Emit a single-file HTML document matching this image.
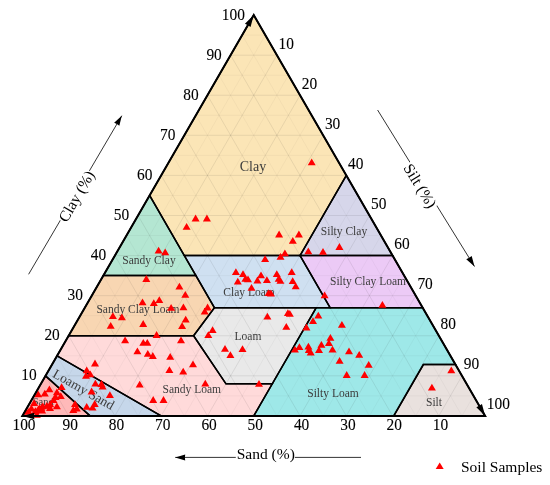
<!DOCTYPE html>
<html><head><meta charset="utf-8"><title>Soil texture triangle</title>
<style>html,body{margin:0;padding:0;background:#fff}svg{display:block}</style></head>
<body>
<svg width="550" height="485" viewBox="0 0 550 485">
<rect width="550" height="485" fill="#fff"/>
<polygon points="253.75,15.10 346.31,175.42 300.03,255.58 184.33,255.58 149.62,195.46" fill="#fbe5b6"/>
<polygon points="149.62,195.46 195.90,275.62 103.34,275.62" fill="#b4e6d2"/>
<polygon points="346.31,175.42 392.59,255.58 300.03,255.58" fill="#d6d6ea"/>
<polygon points="184.33,255.58 300.03,255.58 330.11,307.68 214.41,307.68 195.90,275.62" fill="#cfe0f1"/>
<polygon points="300.03,255.58 392.59,255.58 422.67,307.68 330.11,307.68" fill="#eccaf6"/>
<polygon points="103.34,275.62 195.90,275.62 214.41,307.68 193.59,335.74 68.63,335.74" fill="#f8d6b2"/>
<polygon points="214.41,307.68 316.23,307.68 272.26,383.84 225.98,383.84 193.59,335.74" fill="#e9e9e9"/>
<polygon points="68.63,335.74 193.59,335.74 225.98,383.84 272.26,383.84 253.75,415.90 161.19,415.90 57.06,355.78" fill="#ffdada"/>
<polygon points="316.23,307.68 422.67,307.68 455.53,364.60 423.37,364.60 393.75,415.90 253.75,415.90" fill="#9ee8e8"/>
<polygon points="455.53,364.60 485.15,415.90 393.75,415.90 423.37,364.60" fill="#e9e1de"/>
<polygon points="57.06,355.78 161.19,415.90 90.15,415.90 45.49,375.82" fill="#c6d7ea"/>
<polygon points="45.49,375.82 90.15,415.90 22.35,415.90" fill="#ffb9b9"/>
<path d="M33.92 395.86L473.58 395.86M45.49 415.90L265.32 35.14M462.01 415.90L242.18 35.14M57.06 355.78L450.44 355.78M91.77 415.90L288.46 75.22M415.73 415.90L219.04 75.22M80.20 315.70L427.30 315.70M138.05 415.90L311.60 115.30M369.45 415.90L195.90 115.30M103.34 275.62L404.16 275.62M184.33 415.90L334.74 155.38M323.17 415.90L172.76 155.38M126.48 235.54L381.02 235.54M230.61 415.90L357.88 195.46M276.89 415.90L149.62 195.46M149.62 195.46L357.88 195.46M276.89 415.90L381.02 235.54M230.61 415.90L126.48 235.54M172.76 155.38L334.74 155.38M323.17 415.90L404.16 275.62M184.33 415.90L103.34 275.62M195.90 115.30L311.60 115.30M369.45 415.90L427.30 315.70M138.05 415.90L80.20 315.70M219.04 75.22L288.46 75.22M415.73 415.90L450.44 355.78M91.77 415.90L57.06 355.78M242.18 35.14L265.32 35.14M462.01 415.90L473.58 395.86M45.49 415.90L33.92 395.86" stroke="#2a2a2a" stroke-opacity="0.04" stroke-width="1" fill="none"/>
<path d="M45.49 375.82L462.01 375.82M68.63 415.90L276.89 55.18M438.87 415.90L230.61 55.18M68.63 335.74L438.87 335.74M114.91 415.90L300.03 95.26M392.59 415.90L207.47 95.26M91.77 295.66L415.73 295.66M161.19 415.90L323.17 135.34M346.31 415.90L184.33 135.34M114.91 255.58L392.59 255.58M207.47 415.90L346.31 175.42M300.03 415.90L161.19 175.42M138.05 215.50L369.45 215.50M253.75 415.90L369.45 215.50M253.75 415.90L138.05 215.50M161.19 175.42L346.31 175.42M300.03 415.90L392.59 255.58M207.47 415.90L114.91 255.58M184.33 135.34L323.17 135.34M346.31 415.90L415.73 295.66M161.19 415.90L91.77 295.66M207.47 95.26L300.03 95.26M392.59 415.90L438.87 335.74M114.91 415.90L68.63 335.74M230.61 55.18L276.89 55.18M438.87 415.90L462.01 375.82M68.63 415.90L45.49 375.82" stroke="#2a2a2a" stroke-opacity="0.095" stroke-width="1" fill="none"/>
<polygon points="253.75,15.10 346.31,175.42 300.03,255.58 184.33,255.58 149.62,195.46" fill="none" stroke="#000" stroke-width="1.5" stroke-linejoin="miter"/>
<polygon points="149.62,195.46 195.90,275.62 103.34,275.62" fill="none" stroke="#000" stroke-width="1.5" stroke-linejoin="miter"/>
<polygon points="346.31,175.42 392.59,255.58 300.03,255.58" fill="none" stroke="#000" stroke-width="1.5" stroke-linejoin="miter"/>
<polygon points="184.33,255.58 300.03,255.58 330.11,307.68 214.41,307.68 195.90,275.62" fill="none" stroke="#000" stroke-width="1.5" stroke-linejoin="miter"/>
<polygon points="300.03,255.58 392.59,255.58 422.67,307.68 330.11,307.68" fill="none" stroke="#000" stroke-width="1.5" stroke-linejoin="miter"/>
<polygon points="103.34,275.62 195.90,275.62 214.41,307.68 193.59,335.74 68.63,335.74" fill="none" stroke="#000" stroke-width="1.5" stroke-linejoin="miter"/>
<polygon points="214.41,307.68 316.23,307.68 272.26,383.84 225.98,383.84 193.59,335.74" fill="none" stroke="#000" stroke-width="1.5" stroke-linejoin="miter"/>
<polygon points="68.63,335.74 193.59,335.74 225.98,383.84 272.26,383.84 253.75,415.90 161.19,415.90 57.06,355.78" fill="none" stroke="#000" stroke-width="1.5" stroke-linejoin="miter"/>
<polygon points="316.23,307.68 422.67,307.68 455.53,364.60 423.37,364.60 393.75,415.90 253.75,415.90" fill="none" stroke="#000" stroke-width="1.5" stroke-linejoin="miter"/>
<polygon points="455.53,364.60 485.15,415.90 393.75,415.90 423.37,364.60" fill="none" stroke="#000" stroke-width="1.5" stroke-linejoin="miter"/>
<polygon points="57.06,355.78 161.19,415.90 90.15,415.90 45.49,375.82" fill="none" stroke="#000" stroke-width="1.5" stroke-linejoin="miter"/>
<polygon points="45.49,375.82 90.15,415.90 22.35,415.90" fill="none" stroke="#000" stroke-width="1.5" stroke-linejoin="miter"/>
<g font-family="'Liberation Serif','Times New Roman',serif" font-size="15.4" fill="#000" stroke="#000" stroke-width="0.1" text-anchor="middle">
<text transform="translate(244.9 19.6) scale(1 1.04)" text-anchor="end">100</text>
<text transform="translate(221.8 59.7) scale(1 1.04)" text-anchor="end">90</text>
<text transform="translate(198.7 99.8) scale(1 1.04)" text-anchor="end">80</text>
<text transform="translate(175.5 139.8) scale(1 1.04)" text-anchor="end">70</text>
<text transform="translate(152.4 179.9) scale(1 1.04)" text-anchor="end">60</text>
<text transform="translate(129.2 220.0) scale(1 1.04)" text-anchor="end">50</text>
<text transform="translate(106.1 260.1) scale(1 1.04)" text-anchor="end">40</text>
<text transform="translate(83.0 300.2) scale(1 1.04)" text-anchor="end">30</text>
<text transform="translate(59.8 340.2) scale(1 1.04)" text-anchor="end">20</text>
<text transform="translate(36.7 380.3) scale(1 1.04)" text-anchor="end">10</text>
<text transform="translate(278.6 48.5) scale(1 1.04)" text-anchor="start">10</text>
<text transform="translate(301.7 88.6) scale(1 1.04)" text-anchor="start">20</text>
<text transform="translate(324.9 128.6) scale(1 1.04)" text-anchor="start">30</text>
<text transform="translate(348.0 168.7) scale(1 1.04)" text-anchor="start">40</text>
<text transform="translate(371.1 208.8) scale(1 1.04)" text-anchor="start">50</text>
<text transform="translate(394.3 248.9) scale(1 1.04)" text-anchor="start">60</text>
<text transform="translate(417.4 289.0) scale(1 1.04)" text-anchor="start">70</text>
<text transform="translate(440.6 329.0) scale(1 1.04)" text-anchor="start">80</text>
<text transform="translate(463.7 369.1) scale(1 1.04)" text-anchor="start">90</text>
<text transform="translate(486.8 409.2) scale(1 1.04)" text-anchor="start">100</text>
<text transform="translate(24.0 430.4) scale(1 1.04)">100</text>
<text transform="translate(70.2 430.4) scale(1 1.04)">90</text>
<text transform="translate(116.5 430.4) scale(1 1.04)">80</text>
<text transform="translate(162.8 430.4) scale(1 1.04)">70</text>
<text transform="translate(209.1 430.4) scale(1 1.04)">60</text>
<text transform="translate(255.3 430.4) scale(1 1.04)">50</text>
<text transform="translate(301.6 430.4) scale(1 1.04)">40</text>
<text transform="translate(347.9 430.4) scale(1 1.04)">30</text>
<text transform="translate(394.2 430.4) scale(1 1.04)">20</text>
<text transform="translate(440.5 430.4) scale(1 1.04)">10</text>
</g>
<g font-family="'Liberation Serif','Times New Roman',serif" font-size="11.5" fill="#3c3c3c" text-anchor="middle">
<text x="253" y="171" font-size="14">Clay</text>
<text x="344" y="234.5">Silty Clay</text>
<text x="149" y="264.3">Sandy Clay</text>
<text x="249" y="296">Clay Loam</text>
<text x="368" y="285">Silty Clay Loam</text>
<text x="138" y="313">Sandy Clay Loam</text>
<text x="248" y="340">Loam</text>
<text x="191.8" y="393">Sandy Loam</text>
<text x="333" y="397">Silty Loam</text>
<text x="434" y="406">Silt</text>
<text x="43.2" y="404.6" font-size="10.5">Sand</text>
<text transform="translate(83.6,389.5) rotate(29.6)" font-size="13.4" y="4.4">Loamy Sand</text>
</g>
<path d="M311.7 158.4l4.0 6.8h-8.0zM195.6 214.6l4.0 6.8h-8.0zM206.9 214.6l4.0 6.8h-8.0zM186.6 223.0l4.0 6.8h-8.0zM279.1 230.6l4.0 6.8h-8.0zM298.9 230.6l4.0 6.8h-8.0zM292.8 237.0l4.0 6.8h-8.0zM284.9 249.5l4.0 6.8h-8.0zM280.5 253.0l4.0 6.8h-8.0zM265.1 255.3l4.0 6.8h-8.0zM308.3 247.4l4.0 6.8h-8.0zM323.0 248.0l4.0 6.8h-8.0zM339.4 243.1l4.0 6.8h-8.0zM235.9 268.3l4.0 6.8h-8.0zM243.0 270.2l4.0 6.8h-8.0zM237.8 277.8l4.0 6.8h-8.0zM245.4 275.0l4.0 6.8h-8.0zM248.0 275.4l4.0 6.8h-8.0zM251.5 284.0l4.0 6.8h-8.0zM257.4 276.6l4.0 6.8h-8.0zM261.0 271.4l4.0 6.8h-8.0zM266.9 276.2l4.0 6.8h-8.0zM276.8 270.2l4.0 6.8h-8.0zM278.7 275.0l4.0 6.8h-8.0zM280.4 276.9l4.0 6.8h-8.0zM291.7 268.3l4.0 6.8h-8.0zM292.7 277.3l4.0 6.8h-8.0zM295.7 282.5l4.0 6.8h-8.0zM268.6 289.2l4.0 6.8h-8.0zM270.9 289.6l4.0 6.8h-8.0zM324.6 291.5l4.0 6.8h-8.0zM267.4 312.8l4.0 6.8h-8.0zM287.9 309.2l4.0 6.8h-8.0zM289.8 310.0l4.0 6.8h-8.0zM286.3 323.0l4.0 6.8h-8.0zM212.6 326.2l4.0 6.8h-8.0zM208.3 331.3l4.0 6.8h-8.0zM207.6 303.6l4.0 6.8h-8.0zM204.7 307.8l4.0 6.8h-8.0zM225.0 344.9l4.0 6.8h-8.0zM242.5 345.2l4.0 6.8h-8.0zM230.4 351.2l4.0 6.8h-8.0zM259.0 379.9l4.0 6.8h-8.0zM318.3 311.8l4.0 6.8h-8.0zM313.0 317.2l4.0 6.8h-8.0zM306.4 323.6l4.0 6.8h-8.0zM382.4 300.9l4.0 6.8h-8.0zM341.9 320.9l4.0 6.8h-8.0zM330.4 334.0l4.0 6.8h-8.0zM328.9 339.2l4.0 6.8h-8.0zM321.4 341.0l4.0 6.8h-8.0zM319.0 346.2l4.0 6.8h-8.0zM332.5 345.8l4.0 6.8h-8.0zM308.4 342.7l4.0 6.8h-8.0zM308.8 346.2l4.0 6.8h-8.0zM310.7 348.6l4.0 6.8h-8.0zM299.4 343.2l4.0 6.8h-8.0zM294.9 345.8l4.0 6.8h-8.0zM349.0 347.4l4.0 6.8h-8.0zM359.2 351.0l4.0 6.8h-8.0zM339.6 356.9l4.0 6.8h-8.0zM368.7 360.9l4.0 6.8h-8.0zM346.7 371.1l4.0 6.8h-8.0zM364.6 371.1l4.0 6.8h-8.0zM451.3 366.4l4.0 6.8h-8.0zM431.9 383.7l4.0 6.8h-8.0zM158.6 246.8l4.0 6.8h-8.0zM165.2 248.4l4.0 6.8h-8.0zM146.3 275.1l4.0 6.8h-8.0zM179.4 282.7l4.0 6.8h-8.0zM185.3 291.0l4.0 6.8h-8.0zM142.5 298.5l4.0 6.8h-8.0zM153.8 299.2l4.0 6.8h-8.0zM159.3 296.2l4.0 6.8h-8.0zM171.1 304.0l4.0 6.8h-8.0zM183.4 303.5l4.0 6.8h-8.0zM112.9 312.3l4.0 6.8h-8.0zM121.9 313.4l4.0 6.8h-8.0zM110.7 322.0l4.0 6.8h-8.0zM143.2 320.1l4.0 6.8h-8.0zM185.7 315.8l4.0 6.8h-8.0zM182.1 322.2l4.0 6.8h-8.0zM156.6 331.1l4.0 6.8h-8.0zM125.1 336.4l4.0 6.8h-8.0zM181.0 336.4l4.0 6.8h-8.0zM143.3 338.9l4.0 6.8h-8.0zM147.3 338.9l4.0 6.8h-8.0zM137.4 347.4l4.0 6.8h-8.0zM147.8 349.9l4.0 6.8h-8.0zM152.8 352.1l4.0 6.8h-8.0zM170.2 352.9l4.0 6.8h-8.0zM193.0 360.4l4.0 6.8h-8.0zM169.4 366.3l4.0 6.8h-8.0zM183.2 367.7l4.0 6.8h-8.0zM139.7 380.7l4.0 6.8h-8.0zM205.3 379.8l4.0 6.8h-8.0zM153.2 396.1l4.0 6.8h-8.0zM163.5 396.1l4.0 6.8h-8.0zM61.6 383.3l4.0 6.8h-8.0zM49.4 385.4l4.0 6.8h-8.0zM56.9 388.5l4.0 6.8h-8.0zM44.8 389.8l4.0 6.8h-8.0zM38.1 390.5l4.0 6.8h-8.0zM60.8 392.3l4.0 6.8h-8.0zM55.5 393.2l4.0 6.8h-8.0zM34.1 399.2l4.0 6.8h-8.0zM50.2 400.5l4.0 6.8h-8.0zM56.9 402.5l4.0 6.8h-8.0zM42.8 402.5l4.0 6.8h-8.0zM46.8 401.9l4.0 6.8h-8.0zM39.4 404.6l4.0 6.8h-8.0zM31.4 404.6l4.0 6.8h-8.0zM35.4 407.2l4.0 6.8h-8.0zM42.1 406.6l4.0 6.8h-8.0zM28.7 407.9l4.0 6.8h-8.0zM75.0 400.3l4.0 6.8h-8.0zM73.3 406.2l4.0 6.8h-8.0zM76.8 404.6l4.0 6.8h-8.0zM95.0 359.6l4.0 6.8h-8.0zM86.7 366.4l4.0 6.8h-8.0zM86.0 371.9l4.0 6.8h-8.0zM90.3 370.4l4.0 6.8h-8.0zM95.4 379.8l4.0 6.8h-8.0zM101.5 380.1l4.0 6.8h-8.0zM102.6 382.7l4.0 6.8h-8.0zM91.6 387.6l4.0 6.8h-8.0zM109.9 391.3l4.0 6.8h-8.0zM86.7 403.0l4.0 6.8h-8.0zM94.7 400.1l4.0 6.8h-8.0zM92.5 403.7l4.0 6.8h-8.0zM53.5 396.1l4.0 6.8h-8.0zM41.4 403.9l4.0 6.8h-8.0zM38.2 405.7l4.0 6.8h-8.0zM50.0 404.1l4.0 6.8h-8.0zM26.4 408.0l4.0 6.8h-8.0zM36.8 410.9l4.0 6.8h-8.0z" fill="#ff0000"/>
<polygon points="22.35,415.90 253.75,15.10 485.15,415.90" fill="none" stroke="#000" stroke-width="2" stroke-linejoin="miter"/>
<polygon points="253.75,15.10 250.56,27.12 247.93,25.18 244.94,23.87" fill="#000"/>
<polygon points="485.15,415.90 476.34,407.13 479.33,405.82 481.96,403.88" fill="#000"/>
<polygon points="22.35,415.90 34.35,412.65 33.99,415.90 34.35,419.15" fill="#000"/>
<g stroke="#000" stroke-width="0.8" fill="none">
<path d="M28.6 274.3L121.8 115.7"/>
<path d="M377.6 110L474.5 266.5"/>
<path d="M175.2 457.4H361"/>
</g>
<polygon points="121.80,115.70 119.32,125.84 116.89,124.06 114.15,122.80" fill="#000"/>
<polygon points="474.50,266.50 466.25,259.26 469.14,257.84 471.69,255.89" fill="#000"/>
<polygon points="175.20,457.40 185.20,454.40 184.90,457.40 185.20,460.40" fill="#000"/>
<g font-family="'Liberation Serif','Times New Roman',serif" font-size="15.5" fill="#000" text-anchor="middle">
<g transform="translate(76.6,196.3) rotate(-59.6)"><rect x="-29" y="-9" width="57.5" height="18" fill="#fff"/><text y="5">Clay (%)</text></g>
<g transform="translate(420,186) rotate(58.5)"><rect x="-25.5" y="-9" width="51" height="18" fill="#fff"/><text y="5">Silt (%)</text></g>
<g transform="translate(265.8,454.2)"><rect x="-30" y="-9" width="59" height="18" fill="#fff"/><text y="5">Sand (%)</text></g>
<text x="461" y="472" text-anchor="start">Soil Samples</text>
</g>
<path d="M439.7 462.6l4 6.4h-8z" fill="#ff0000"/>
</svg>
</body></html>
